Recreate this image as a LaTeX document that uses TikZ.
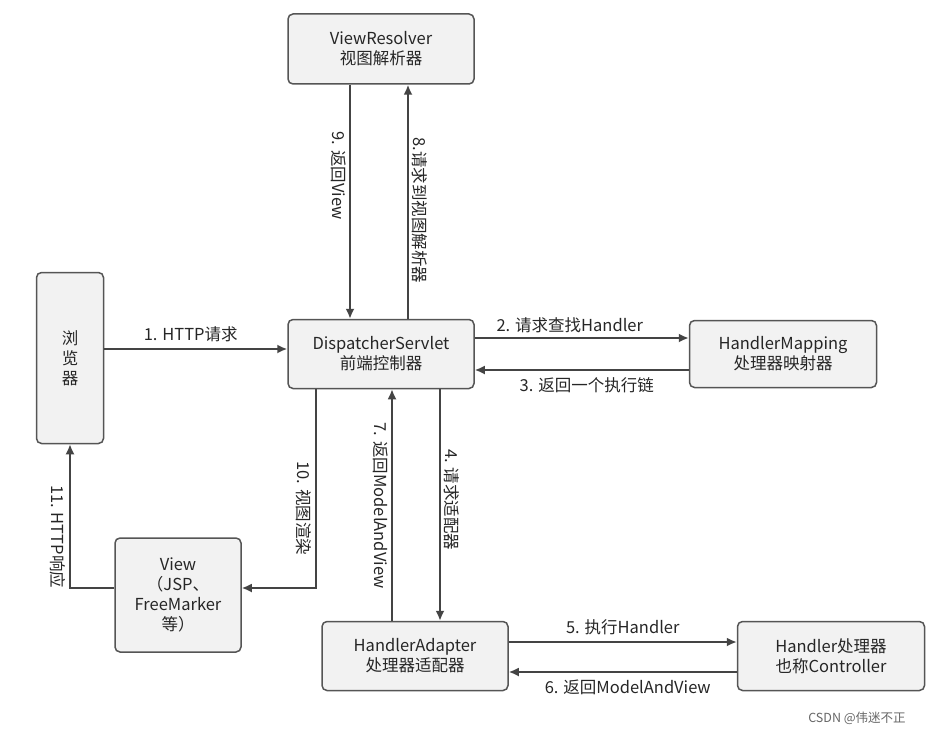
\documentclass[tikz,border=0pt]{standalone}
\usepackage{fontspec}
\setmainfont{Noto Sans CJK SC}
\usetikzlibrary{positioning,arrows.meta}
\definecolor{boxfill}{HTML}{F2F2F2}
\definecolor{boxdraw}{HTML}{555555}
\definecolor{arrowgray}{HTML}{444444}
\tikzset{
  box/.style={draw=boxdraw, fill=boxfill, line width=1.5pt, rounded corners=5pt,
    align=center, font=\fontsize{16.5}{20}\selectfont, text=black!85},
  flow/.style={draw=arrowgray, line width=1.8pt, -{Latex[length=10pt,width=9pt]}},
  lbl/.style={font=\fontsize{16.5}{20}\selectfont, text=black!85},
  vlbl/.style={lbl, rotate=-90}
}
\begin{document}
\begin{tikzpicture}[x=1pt, y=-1pt]
  \useasboundingbox (0,0) rectangle (941,738);
  % boxes
  \node[box, minimum width=186pt, minimum height=70pt] (resolver) at (381,49) {ViewResolver\\视图解析器};
  \node[box, minimum width=67pt, minimum height=171pt] (browser) at (70,358) {浏\\览\\器};
  \node[box, minimum width=186pt, minimum height=69pt] (dispatcher) at (381,354) {DispatcherServlet\\前端控制器};
  \node[box, minimum width=187pt, minimum height=67pt] (mapping) at (783,354) {HandlerMapping\\处理器映射器};
  \node[box, minimum width=126pt, minimum height=114pt, inner sep=1pt] (view) at (178,595) {View\\（JSP、\\FreeMarker\\等）};
  \node[box, minimum width=186pt, minimum height=69pt] (adapter) at (415,656) {HandlerAdapter\\处理器适配器};
  \node[box, minimum width=187pt, minimum height=69pt] (handler) at (831,656) {Handler处理器\\也称Controller};
  % corner coordinates
  \coordinate (c10) at (316,588);
  \coordinate (c11) at (70,588);
  % connectors
  \draw[flow] (browser.east |- 0,349) -- node[lbl, above=3pt, xshift=-5pt] {1. HTTP请求} (dispatcher.west |- 0,349);
  \draw[flow] (dispatcher.east |- 0,338) -- node[lbl, above=1pt, xshift=-12pt] {2. 请求查找Handler} (mapping.west |- 0,338);
  \draw[flow] (mapping.west |- 0,370) -- node[lbl, below=3pt, xshift=5pt] {3. 返回一个执行链} (dispatcher.east |- 0,370);
  \draw[flow] (resolver.south -| 350,0) -- node[vlbl, anchor=north, xshift=-5pt, pos=0.41] {9. 返回View} (dispatcher.north -| 350,0);
  \draw[flow] (dispatcher.north -| 408,0) -- node[vlbl, anchor=south, xshift=4pt, pos=0.48] {8.请求到视图解析器} (resolver.south -| 408,0);
  \draw[flow] (dispatcher.south -| 440,0) -- node[vlbl, anchor=south, xshift=4pt, pos=0.46] {4. 请求适配器} (adapter.north -| 440,0);
  \draw[flow] (adapter.north -| 392,0) -- node[vlbl, anchor=north, xshift=-4pt, pos=0.48] {7. 返回ModelAndView} (dispatcher.south -| 392,0);
  \draw[flow] (dispatcher.south -| 316,0) -- node[vlbl, anchor=north, xshift=-4pt, pos=0.62] {10. 视图渲染} (c10) -- (view.east |- c10);
  \draw[flow] (view.west |- c11) -- (c11) -- node[vlbl, anchor=north, xshift=-4pt, pos=0.33] {11. HTTP响应} (browser.south);
  \draw[flow] (adapter.east |- 0,642) -- node[lbl, above=3pt] {5. 执行Handler} (handler.west |- 0,642);
  \draw[flow] (handler.west |- 0,672) -- node[lbl, below=4pt, xshift=5pt] {6. 返回ModelAndView} (adapter.east |- 0,672);
  % watermark
  \node[font=\fontsize{12.5}{14}\selectfont, text=black!60] (mark) at (857,718) {CSDN @伟迷不正};
\end{tikzpicture}
\end{document}
